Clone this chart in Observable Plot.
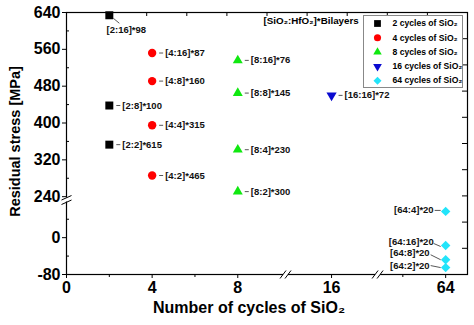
<!DOCTYPE html>
<html><head><meta charset="utf-8">
<script src="https://cdn.jsdelivr.net/npm/d3@7"></script>
<script src="https://cdn.jsdelivr.net/npm/@observablehq/plot@0.6"></script>
<style>body{margin:0;background:#fff}</style>
</head><body><div id="chart"></div>
<script>
// ---- data ----
const seriesNames = ["2 cycles of SiO₂", "4 cycles of SiO₂", "8 cycles of SiO₂", "16 cycles of SiO₂", "64 cycles of SiO₂"];
const seriesCycles = [2, 4, 8, 16, 64];
const labels2 = ["[2:16]*98", "[2:8]*100", "[2:2]*615"];
const stress2 = [634, 438, 353];
const labels4 = ["[4:16]*87", "[4:8]*160", "[4:4]*315", "[4:2]*465"];
const stress4 = [552, 491, 395, 286];
const labels8 = ["[8:16]*76", "[8:8]*145", "[8:4]*230", "[8:2]*300"];
const stress8 = [536, 465, 342, 251];
const labels16 = ["[16:16]*72"];
const stress16 = [460];
const labels64 = ["[64:4]*20", "[64:16]*20", "[64:8]*20", "[64:2]*20"];
const stress64 = [57, -17, -48, -65];
const xTickValues = [0, 4, 8, 16, 64];
const xMinorTicks = [2, 6, 62];
const yTickValues = [-80, 0, 240, 320, 400, 480, 560, 640];
const yMinorTicks = [-40, 40, 280, 360, 440, 520, 600];
const annotationText = "[SiO₂:HfO₂]*Bilayers";
const xTitle = "Number of cycles of SiO₂";
const yTitle = "Residual stress [MPa]";

// ---- styles / layout ----
const seriesColors = ["#000000", "#ff0000", "#10e810", "#0a0ad0", "#22e4fa"];
const W = 474, H = 325, mL = 66, mR = 7, mT = 12, mB = 51;
// broken axes: real value -> continuous axis unit (piecewise, breaks collapse to one unit)
const xKnots = [0, 10.23, 13.85, 18.15, 60.82, 65.02];
const xUnits = [0, 10.23, 10.23, 14.53, 14.53, 18.73];
const yKnots = [-80, 85, 236, 640];
const yUnits = [-80, 85, 85, 489];
const xu = d3.scaleLinear(xKnots, xUnits);
const yu = d3.scaleLinear(yKnots, yUnits);
const xDomain = [xUnits[0], xUnits[xUnits.length - 1]];
const yDomain = [yUnits[0], yUnits[yUnits.length - 1]];
// pixel <-> unit helpers (match Plot's linear scales for these margins)
const xPix = d3.scaleLinear(xDomain, [mL, W - mR]);
const yPix = d3.scaleLinear(yDomain, [H - mB, mT]);
const invX = p => xPix.invert(p), invY = p => yPix.invert(p);

// symbols
const flip = ctx => ({moveTo: (x, y) => ctx.moveTo(x, -y), lineTo: (x, y) => ctx.lineTo(x, -y), closePath: () => ctx.closePath()});
const triangleDown = {draw(ctx, size) { d3.symbolTriangle.draw(flip(ctx), size); }};
const diamondSym = {draw(ctx, size) { const r = Math.sqrt(size / 2); ctx.moveTo(0, -r); ctx.lineTo(r, 0); ctx.lineTo(0, r); ctx.lineTo(-r, 0); ctx.closePath(); }};
const seriesSymbols = ["square", "circle", "triangle", triangleDown, diamondSym];
const seriesR = [4.5, 4.2, 3.7, 3.8, 3.75];

const groups = [[labels2, stress2], [labels4, stress4], [labels8, stress8], [labels16, stress16], [labels64, stress64]];
const points = groups.flatMap(([labs, vals], s) => vals.map((v, j) => ({series: s, cycles: seriesCycles[s], stress: v, label: labs[j]})));

// label placement (pixel offsets from the point)
const defaultPlace = {anchor: "start", t: [13, 0], l: [[7, 0], [11, 0]]};
const specialPlace = {
  "[2:16]*98": {anchor: "middle", t: [17, 15], l: [[4, 3], [10, 8]]},
  "[64:4]*20": {anchor: "end", t: [-12, -1], l: [[-11, -1], [-5, -1]]},
  "[64:16]*20": {anchor: "end", t: [-12, -4], l: [[-12, -2], [-5, 1]]},
  "[64:8]*20": {anchor: "end", t: [-16, -7], l: [[-15, -5], [-5, 0]]},
  "[64:2]*20": {anchor: "end", t: [-16, -2], l: [[-15, -2], [-5, 0]]}
};
const labelRows = points.map(p => {
  const pl = specialPlace[p.label] || defaultPlace;
  const px = xPix(xu(p.cycles)), py = yPix(yu(p.stress));
  return {
    label: p.label, anchor: pl.anchor,
    tx: invX(px + pl.t[0]), ty: invY(py + pl.t[1]),
    x1: invX(px + pl.l[0][0]), y1: invY(py + pl.l[0][1]),
    x2: invX(px + pl.l[1][0]), y2: invY(py + pl.l[1][1])
  };
});

// axis decorations
const topTicks = d3.range(1, 10).map(i => invX(mL + i * (W - mR - mL) / 10));
const rightTicks = d3.range(1, 10).map(i => invY(mT + i * (H - mB - mT) / 10));
const bx = [xPix(xUnits[1]), xPix(xUnits[3])];
const by = yPix(yUnits[1]);
const gapSegs = [
  ...bx.map(b => ({x1: invX(b - 2.5), x2: invX(b + 2.5), y1: yDomain[0], y2: yDomain[0]})),
  {x1: xDomain[0], x2: xDomain[0], y1: invY(by - 1), y2: invY(by + 3)}
];
const slashSegs = [];
for (const b of bx) {
  slashSegs.push({x1: invX(b - 5.5), y1: invY(H - mB + 4), x2: invX(b + 0.5), y2: invY(H - mB - 4)});
  slashSegs.push({x1: invX(b - 0.5), y1: invY(H - mB + 4), x2: invX(b + 5.5), y2: invY(H - mB - 4)});
}
slashSegs.push({x1: invX(mL - 5), y1: invY(by + 1.5), x2: invX(mL + 5), y2: invY(by - 3)});
slashSegs.push({x1: invX(mL - 5), y1: invY(by + 6), x2: invX(mL + 5), y2: invY(by + 1.5)});

const font = "'Liberation Sans', Arial, Helvetica, sans-serif";
const xTickUnits = xTickValues.map(v => xu(v));
const yTickUnits = yTickValues.map(v => yu(v));
const fmtFrom = (units, vals) => u => { const i = units.findIndex(t => Math.abs(t - u) < 1e-6); return i < 0 ? "" : String(vals[i]); };

const marks = [
  Plot.frame({stroke: "#000", strokeWidth: 1.2}),
  Plot.link(gapSegs, {x1: "x1", y1: "y1", x2: "x2", y2: "y2", stroke: "white", strokeWidth: 4}),
  Plot.link(slashSegs, {x1: "x1", y1: "y1", x2: "x2", y2: "y2", stroke: "#000", strokeWidth: 1}),
  Plot.ruleX(topTicks, {x: d => d, y1: yDomain[1], y2: invY(mT + 4), stroke: "#000"}),
  Plot.ruleY(rightTicks, {y: d => d, x1: invX(W - mR - 5), x2: xDomain[1], stroke: "#000"}),
  Plot.ruleY(yMinorTicks, {y: d => yu(d), x1: xDomain[0], x2: invX(mL + 3), stroke: "#000"}),
  Plot.ruleX(xMinorTicks, {x: d => xu(d), y1: yDomain[0], y2: invY(H - mB + 3), stroke: "#000"}),
  ...seriesCycles.map((c, s) => Plot.dot(points.filter(p => p.series === s), {
    x: p => xu(p.cycles), y: p => yu(p.stress), symbol: seriesSymbols[s], fill: seriesColors[s], r: seriesR[s], stroke: "none"
  })),
  Plot.link(labelRows, {x1: "x1", y1: "y1", x2: "x2", y2: "y2", stroke: "#444", strokeWidth: 0.9}),
  ...["start", "middle", "end"].map(a => Plot.text(labelRows.filter(d => d.anchor === a), {
    x: "tx", y: "ty", text: "label", textAnchor: a, lineAnchor: "middle", fontSize: 9.5, fontWeight: "bold", fill: "#111"
  })),
  Plot.text([annotationText], {frameAnchor: "top", dx: -3.5, dy: 8, text: d => d, textAnchor: "start", lineAnchor: "middle", fontSize: 9.8, fontWeight: "bold"}),
  // legend
  Plot.frame({insetLeft: 297, insetRight: 5, insetTop: 3, insetBottom: 187, stroke: "#888", fill: "white", strokeWidth: 1}),
  ...seriesNames.map((name, s) => Plot.dot([name], {frameAnchor: "top-right", dx: -90, dy: 11 + s * 14.3,
    symbol: seriesSymbols[s], fill: seriesColors[s], r: seriesR[s] * 0.85, stroke: "none"})),
  ...seriesNames.map((name, s) => Plot.text([name], {frameAnchor: "top-right", dx: -75, dy: 11 + s * 14.3,
    text: d => d, textAnchor: "start", lineAnchor: "middle", fontSize: 8.6, fontWeight: "bold"})),
  // axis titles
  Plot.text([xTitle], {frameAnchor: "bottom", dx: -18, dy: 33, text: d => d, textAnchor: "middle", lineAnchor: "middle", fontSize: 16, fontWeight: "bold"}),
  Plot.text([yTitle], {frameAnchor: "left", dx: -51, dy: -2, rotate: -90, text: d => d, textAnchor: "middle", lineAnchor: "middle", fontSize: 14.5, fontWeight: "bold"})
];

const chart = Plot.plot({
  width: W, height: H,
  marginLeft: mL, marginRight: mR, marginTop: mT, marginBottom: mB,
  style: {fontFamily: font, fontWeight: "bold", fontSize: "16px", background: "white", color: "black"},
  x: {domain: xDomain, ticks: xTickUnits, tickSize: 4, tickPadding: 3, tickFormat: fmtFrom(xTickUnits, xTickValues), label: null},
  y: {domain: yDomain, ticks: yTickUnits, tickSize: 4, tickPadding: 2, tickFormat: fmtFrom(yTickUnits, yTickValues), label: null},
  marks
});
document.getElementById("chart").appendChild(chart);
</script>
</body></html>
